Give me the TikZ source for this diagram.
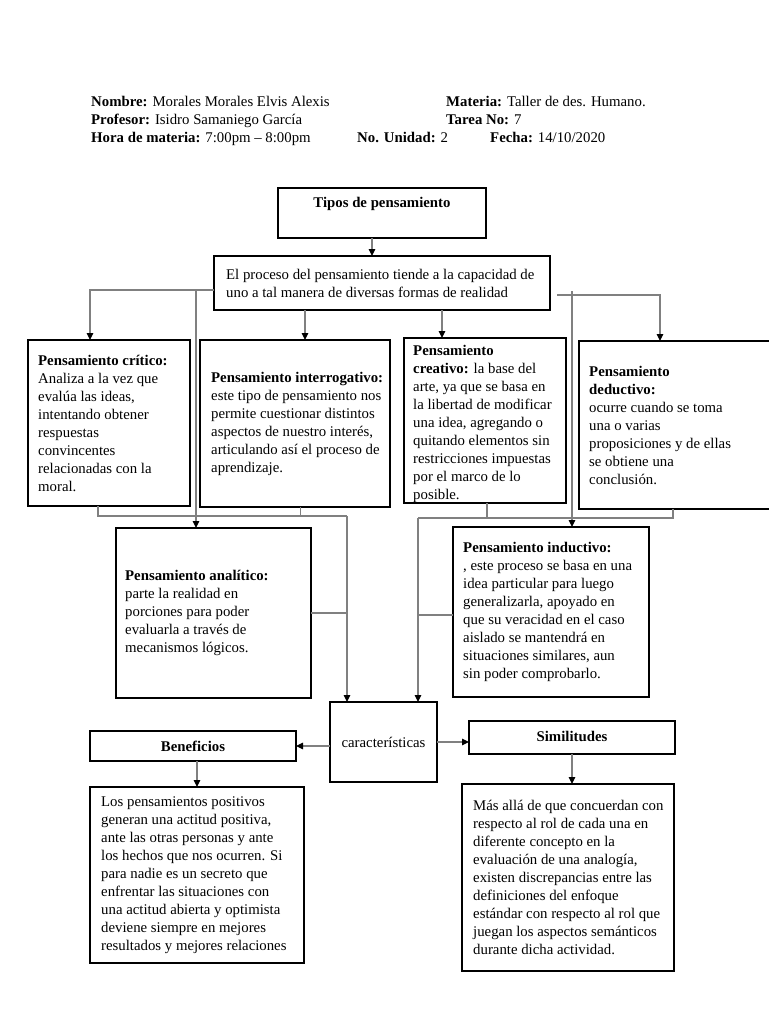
\documentclass[tikz,border=0pt]{standalone}
\usepackage{fontspec}
\setmainfont{Liberation Serif}
\usetikzlibrary{arrows.meta,calc}
\begin{document}
\begin{tikzpicture}[x=1pt,y=-1pt,
  every node/.style={font=\fontsize{14.8}{18}\selectfont},
  box/.style={draw=black,line width=1.2pt,inner sep=0pt,outer sep=0pt},
  thickbox/.style={box,line width=2pt},
  txt/.style={align=left,inner sep=0pt,anchor=west},
  hdr/.style={anchor=base west,inner sep=0pt},
  conn/.style={draw=black!50,line width=1.1pt},
  arr/.style={conn,-{Triangle[length=7pt,width=6.5pt,color=black]}},
]
\useasboundingbox[fill=white] (0,0) rectangle (768,1024);

% header
\node[hdr] (h1) at (91,107) {\textbf{Nombre:} Morales Morales Elvis Alexis};
\node[hdr] (h2) at (446,107) {\textbf{Materia:} Taller de des. Humano.};
\node[hdr] (h3) at (91,125) {\textbf{Profesor:} Isidro Samaniego García};
\node[hdr] (h4) at (446,125) {\textbf{Tarea No:} 7};
\node[hdr] (h5) at (91,143) {\textbf{Hora de materia:} 7:00pm – 8:00pm};
\node[hdr] (h6) at (357,143) {\textbf{No. Unidad:} 2};
\node[hdr] (h7) at (490,143) {\textbf{Fecha:} 14/10/2020};

% boxes
\node[box,minimum width=208pt,minimum height=50pt] (tipos) at (382,213) {};
\node[anchor=base,inner sep=0pt,font=\fontsize{14.8}{18}\selectfont\bfseries] (tiposT) at (382,208) {Tipos de pensamiento};

\node[box,line width=1.6pt,minimum width=336pt,minimum height=54pt] (main) at (382,283) {};
\node[txt] (mainT) at ([xshift=12pt]main.west) {El proceso del pensamiento tiende a la capacidad de\\uno a tal manera de diversas formas de realidad};

\node[box,minimum width=162pt,minimum height=166pt] (crit) at (109,423) {};
\node[txt] (critT) at ([xshift=10pt]crit.west) {\textbf{Pensamiento crítico:}\\Analiza a la vez que\\evalúa las ideas,\\intentando obtener\\respuestas\\convincentes\\relacionadas con la\\moral.};

\node[box,minimum width=190pt,minimum height=167pt] (interrog) at (295,423.5) {};
\node[txt] (interrogT) at ([xshift=11pt]interrog.west) {\textbf{Pensamiento interrogativo:}\\este tipo de pensamiento nos\\permite cuestionar distintos\\aspectos de nuestro interés,\\articulando así el proceso de\\aprendizaje.};

\node[box,minimum width=162pt,minimum height=165pt] (creat) at (485,420.5) {};
\node[txt] (creatT) at ([xshift=9pt,yshift=-3pt]creat.west) {\textbf{Pensamiento}\\\textbf{creativo:} la base del\\arte, ya que se basa en\\la libertad de modificar\\una idea, agregando o\\quitando elementos sin\\restricciones impuestas\\por el marco de lo\\posible.};

\node[thickbox,minimum width=196pt,minimum height=168pt] (deduct) at (677,425) {};
\node[txt] (deductT) at ([xshift=10pt]deduct.west) {\textbf{Pensamiento}\\\textbf{deductivo:}\\ocurre cuando se toma\\una o varias\\proposiciones y de ellas\\se obtiene una\\conclusión.};

\node[thickbox,minimum width=195pt,minimum height=170pt] (anal) at (213.5,613) {};
\node[txt] (analT) at ([xshift=9pt]anal.west) {\textbf{Pensamiento analítico:}\\parte la realidad en\\porciones para poder\\evaluarla a través de\\mecanismos lógicos.};

\node[thickbox,minimum width=196pt,minimum height=170pt] (induct) at (551,612) {};
\node[txt] (inductT) at ([xshift=10pt]induct.west) {\textbf{Pensamiento inductivo:}\\, este proceso se basa en una\\idea particular para luego\\generalizarla, apoyado en\\que su veracidad en el caso\\aislado se mantendrá en\\situaciones similares, aun\\sin poder comprobarlo.};

\node[box,minimum width=107pt,minimum height=80pt] (carac) at (383.5,742) {características};

\node[thickbox,minimum width=206pt,minimum height=30pt,font=\fontsize{14.8}{18}\selectfont\bfseries] (benef) at (193,746) {Beneficios};
\node[box,minimum width=206pt,minimum height=33pt] (simil) at (572,737.5) {};
\node[anchor=base,inner sep=0pt,font=\fontsize{14.8}{18}\selectfont\bfseries] (similT) at (572,741) {Similitudes};

\node[box,minimum width=214pt,minimum height=176pt] (bentext) at (197,875) {};
\node[txt] (bentextT) at ([xshift=11pt]bentext.west) {Los pensamientos positivos\\generan una actitud positiva,\\ante las otras personas y ante\\los hechos que nos ocurren. Si\\para nadie es un secreto que\\enfrentar las situaciones con\\una actitud abierta y optimista\\deviene siempre en mejores\\resultados y mejores relaciones};

\node[box,minimum width=212pt,minimum height=187pt] (simtext) at (568,877.5) {};
\node[txt] (simtextT) at ([xshift=11pt]simtext.west) {Más allá de que concuerdan con\\respecto al rol de cada una en\\diferente concepto en la\\evaluación de una analogía,\\existen discrepancias entre las\\definiciones del enfoque\\estándar con respecto al rol que\\juegan los aspectos semánticos\\durante dicha actividad.};

% junction coordinates
\coordinate (j1) at (196,290);
\coordinate (j2) at (572,291);
\coordinate (c1) at (347,516);
\coordinate (c2) at (418,518);

% connectors
\draw[arr] ([xshift=-10pt]tipos.south) -- ([xshift=-10pt]main.north);
\draw[arr] ([yshift=-7pt]main.west) -| ([xshift=-19pt]crit.north);
\draw[arr] (j1) -- (j1 |- anal.north);
\draw[arr] ([xshift=-77pt]main.south) -- ([xshift=-77pt]main.south |- interrog.north);
\draw[arr] ([xshift=60pt]main.south) -- ([xshift=60pt]main.south |- creat.north);
\draw[arr] ([xshift=7pt,yshift=-12pt]main.east) -| ([xshift=-17pt]deduct.north);
\draw[arr] (j2) -- (j2 |- induct.north);

\draw[conn] ([xshift=-11pt]crit.south) |- (c1);
\draw[conn] ([xshift=5.5pt]interrog.south) -- ([xshift=5.5pt]interrog.south |- c1);
\draw[conn] (anal.east) -- (anal.east -| c1);
\draw[arr] (c1) -- (c1 |- carac.north);

\draw[conn] ([xshift=-4pt]deduct.south) |- (c2);
\draw[conn] ([xshift=2pt]creat.south) -- ([xshift=2pt]creat.south |- c2);
\draw[conn] ([yshift=-3pt]induct.west) -- ([yshift=-3pt]induct.west -| c2);
\draw[arr] (c2) -- (c2 |- carac.north);

\draw[arr] (carac.west |- benef.east) -- (benef.east);
\draw[arr] (carac.east) -- (carac.east -| simil.west);
\draw[arr] (bentext.north |- benef.south) -- (bentext.north);
\draw[arr] (simil.south) -- (simil.south |- simtext.north);
\end{tikzpicture}
\end{document}
